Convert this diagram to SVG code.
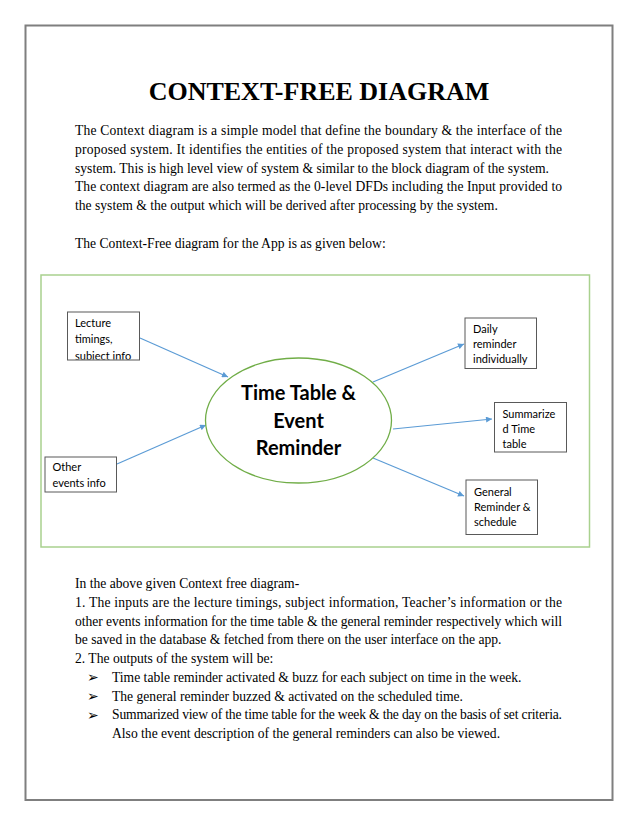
<svg xmlns="http://www.w3.org/2000/svg" width="638" height="826" viewBox="0 0 638 826">
<style>
.body{font-family:"Liberation Serif","Times New Roman",serif;font-size:13.6px;fill:#000}
.title{font-family:"Liberation Serif","Times New Roman",serif;font-size:26px;font-weight:bold;fill:#000}
.box{fill:#fff;stroke:#595959;stroke-width:1}
.lbl{font-family:Lato,"Liberation Sans",sans-serif;font-size:11px;fill:#000}
.big{font-family:Lato,"Liberation Sans",sans-serif;font-size:20px;font-weight:bold;fill:#000}
.arrow{stroke:#5b9bd5;stroke-width:1.2;fill:none;marker-end:url(#ah)}
.bul{font-family:"DejaVu Sans",sans-serif;font-size:14px;fill:#000}
</style>
<defs>
<marker id="ah" viewBox="0 0 10 10" refX="10" refY="5" markerWidth="7" markerHeight="6" markerUnits="userSpaceOnUse" orient="auto">
<path d="M0,0 L10,5 L0,10 z" fill="#5b9bd5"/>
</marker>
<clipPath id="clipLect"><rect x="67" y="312" width="73" height="47.5"/></clipPath>
</defs>
<rect width="638" height="826" fill="#fff"/>
<rect x="25.5" y="25.5" width="587" height="774.5" fill="none" stroke="#7f7f7f" stroke-width="2"/>
<text class="title" x="319" y="100" text-anchor="middle">CONTEXT-FREE DIAGRAM</text>
<g id="intro">
<text class="body" x="75" y="135" textLength="487" lengthAdjust="spacing">The Context diagram is a simple model that define the boundary &amp; the interface of the</text>
<text class="body" x="75" y="153.75" textLength="487" lengthAdjust="spacing">proposed system. It identifies the entities of the proposed system that interact with the</text>
<text class="body" x="75" y="172.5">system. This is high level view of system &amp; similar to the block diagram of the system.</text>
<text class="body" x="75" y="191.25" textLength="487" lengthAdjust="spacing">The context diagram are also termed as the 0-level DFDs including the Input provided to</text>
<text class="body" x="75" y="210">the system &amp; the output which will be derived after processing by the system.</text>
<text class="body" x="75" y="247.5">The Context-Free diagram for the App is as given below:</text>
</g>
<rect x="41" y="275" width="548.5" height="272" fill="none" stroke="#a9d18e" stroke-width="1.5"/>
<g id="connectors">
<line class="arrow" x1="140" y1="338" x2="228" y2="377"/>
<line class="arrow" x1="117" y1="464" x2="206" y2="425"/>
<line class="arrow" x1="373" y1="382" x2="464" y2="344"/>
<line class="arrow" x1="393" y1="429" x2="492" y2="419"/>
<line class="arrow" x1="373" y1="458" x2="464" y2="496"/>
</g>
<g id="process">
<ellipse cx="298.5" cy="420.5" rx="93" ry="62.5" fill="#fff" stroke="#70ad47" stroke-width="1.3"/>
<text class="big" x="298.5" y="400" text-anchor="middle">Time Table &amp;</text>
<text class="big" x="298.5" y="427.5" text-anchor="middle">Event</text>
<text class="big" x="298.5" y="455" text-anchor="middle">Reminder</text>
</g>
<g id="lecture">
<rect class="box" x="67.5" y="312" width="72" height="48"/>
<g clip-path="url(#clipLect)">
<text class="lbl" x="75" y="327">Lecture</text>
<text class="lbl" x="75" y="342.5">timings,</text>
<text class="lbl" x="75" y="359.5">subject info</text>
</g>
</g>
<g id="other">
<rect class="box" x="45" y="457" width="71.5" height="35"/>
<text class="lbl" x="52.5" y="471">Other</text>
<text class="lbl" x="52.5" y="486.5">events info</text>
</g>
<g id="daily">
<rect class="box" x="465" y="318" width="71.5" height="50.5"/>
<text class="lbl" x="473" y="333">Daily</text>
<text class="lbl" x="473" y="348">reminder</text>
<text class="lbl" x="473" y="362.5">individually</text>
</g>
<g id="summary">
<rect class="box" x="494.5" y="402.5" width="72" height="49.5"/>
<text class="lbl" x="502.5" y="417.5">Summarize</text>
<text class="lbl" x="502.5" y="432.5">d Time</text>
<text class="lbl" x="502.5" y="447.5">table</text>
</g>
<g id="general">
<rect class="box" x="466" y="480" width="71.5" height="54.5"/>
<text class="lbl" x="474" y="495.5">General</text>
<text class="lbl" x="474" y="510.5">Reminder &amp;</text>
<text class="lbl" x="474" y="525.5">schedule</text>
</g>
<g id="explanation">
<text class="body" x="75" y="588">In the above given Context free diagram-</text>
<text class="body" x="75" y="606.75" textLength="487" lengthAdjust="spacing">1. The inputs are the lecture timings, subject information, Teacher’s information or the</text>
<text class="body" x="75" y="625.5" textLength="487" lengthAdjust="spacing">other events information for the time table &amp; the general reminder respectively which will</text>
<text class="body" x="75" y="644.25">be saved in the database &amp; fetched from there on the user interface on the app.</text>
<text class="body" x="75" y="663">2. The outputs of the system will be:</text>
<text class="bul" x="87" y="682">➢</text>
<text class="body" x="112" y="681.75">Time table reminder activated &amp; buzz for each subject on time in the week.</text>
<text class="bul" x="87" y="700.75">➢</text>
<text class="body" x="112" y="700.5">The general reminder buzzed &amp; activated on the scheduled time.</text>
<text class="bul" x="87" y="719.5">➢</text>
<text class="body" x="112" y="719.25" textLength="450" lengthAdjust="spacing">Summarized view of the time table for the week &amp; the day on the basis of set criteria.</text>
<text class="body" x="112" y="738">Also the event description of the general reminders can also be viewed.</text>
</g>
</svg>
